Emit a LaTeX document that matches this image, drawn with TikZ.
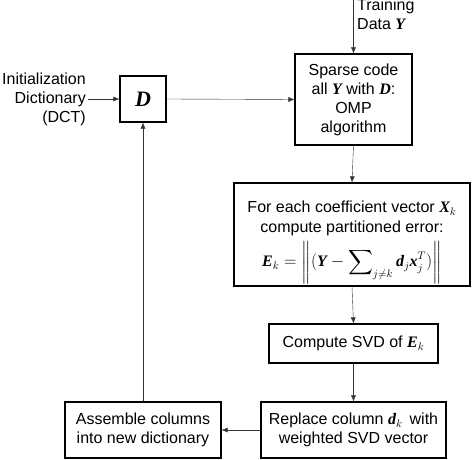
\documentclass[tikz,border=0pt]{standalone}
\usepackage{amsmath}
\usepackage{fontspec}
\setmainfont{Liberation Sans}
\newfontfamily\timesfont{Liberation Serif}
\usetikzlibrary{arrows.meta}
\newcommand{\bv}[1]{\text{\timesfont\bfseries\itshape #1}}
\tikzset{
  blockbox/.style={draw, line width=1.2pt, align=center, inner sep=0pt},
  boxline/.style={anchor=base, inner sep=0pt},
  link/.style={thin, draw=black!80, ->},
}
\begin{document}
\begin{tikzpicture}[x=1pt, y=1pt, >={Latex[length=6pt,width=5pt]},
    font=\fontsize{16}{19}\selectfont]
    \useasboundingbox (0,0) rectangle (474,460);
    % blocks
    \node[blockbox, minimum width=46pt, minimum height=46pt] (dict) at (143,361)
        {\fontsize{22}{22}\selectfont$\bv{D}$};
    \node[blockbox, minimum width=117pt, minimum height=91pt] (sparse) at (353.5,360.5)
        {Sparse code\\ all $\bv{Y}$ with $\bv{D}$:\\ OMP\\ algorithm};
    \node[blockbox, minimum width=236pt, minimum height=103pt] (error) at (352,225.5) {};
    \node[boxline] (errline1) at (352,247) {For each coefficient vector $\bv{X}_k$};
    \node[boxline] (errline2) at (352,227) {compute partitioned error:};
    \node[boxline] (errformula) at (352,193)
        {$\displaystyle \bv{E}_k = \bigg\|(\bv{Y} - \sum\nolimits_{j\neq k}\bv{d}_j\bv{x}_j^T)\bigg\|$};
    \node[blockbox, minimum width=169pt, minimum height=39pt] (svd) at (353.5,116.5)
        {Compute SVD of $\bv{E}_k$};
    \node[blockbox, minimum width=185pt, minimum height=56pt] (replace) at (353.5,30)
        {Replace column $\bv{d}_k$\, with\\ weighted SVD vector};
    \node[blockbox, minimum width=156pt, minimum height=56pt] (assemble) at (143,30)
        {Assemble columns\\ into new dictionary};
    % inputs
    \node[align=right, inner sep=2pt, anchor=east] (init) at (88,361)
        {Initialization\\ Dictionary\\ (DCT)};
    \coordinate (train) at (353.5,460);
    \node[align=left, anchor=north west, inner sep=0pt] (traintext) at (357,461)
        {Training\\ Data $\bv{Y}$};
    % connectors
    \draw[link] (init.east) -- (dict.west);
    \draw[link] (train) -- (sparse.north);
    \draw[link] (dict.east) -- (sparse.west);
    \draw[link] (sparse.south) -- (error.north);
    \draw[link] (error.south) -- (svd.north);
    \draw[link] (svd.south) -- (replace.north);
    \draw[link] (replace.west) -- (assemble.east);
    \draw[link] (assemble.north) -- (dict.south);
\end{tikzpicture}
\end{document}
